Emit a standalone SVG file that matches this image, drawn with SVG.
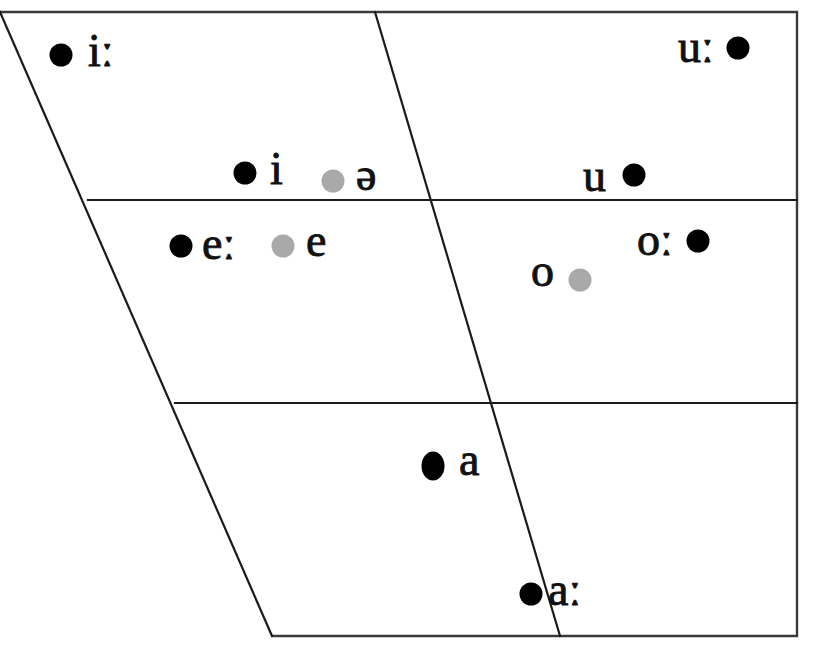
<svg xmlns="http://www.w3.org/2000/svg" width="814" height="660" viewBox="0 0 814 660">
<style>
.ln{stroke:#1a1a1a;stroke-width:2.2;fill:none;stroke-linecap:square}
.bd{stroke:#3a3a3a;stroke-width:2.4;fill:none}
.dk{fill:#000}
.gr{fill:#a9a9a9}
.t{font-family:"Liberation Serif","DejaVu Serif",serif;font-size:46px;fill:#111;stroke:#111;stroke-width:0.9}
</style>
<rect width="814" height="660" fill="#fff"/>
<g id="chart-lines">
<polyline class="bd" points="0,12 797,12 797,636 272,636"/>
<line class="ln" x1="0" y1="12" x2="272" y2="636"/>
<line class="ln" x1="375" y1="12" x2="560" y2="636"/>
<line class="ln" x1="88" y1="200" x2="797" y2="200"/>
<line class="ln" x1="175" y1="403" x2="797" y2="403"/>
</g>
<g id="v-ii"><circle class="dk" cx="61" cy="55" r="11.5"/><text class="t" x="88" y="66">iː</text></g>
<g id="v-uu"><circle class="dk" cx="738" cy="48" r="11.5"/><text class="t" x="678" y="62">uː</text></g>
<g id="v-i"><circle class="dk" cx="245" cy="173" r="11.5"/><text class="t" x="270" y="184">i</text></g>
<g id="v-schwa"><circle class="gr" cx="333" cy="181" r="11.5"/><text class="t" x="356" y="190">ə</text></g>
<g id="v-u"><circle class="dk" cx="634" cy="175" r="11.5"/><text class="t" x="583" y="191">u</text></g>
<g id="v-ee"><circle class="dk" cx="181" cy="246" r="11.5"/><text class="t" x="202" y="259">eː</text></g>
<g id="v-e"><circle class="gr" cx="283" cy="246" r="11.5"/><text class="t" x="306" y="256">e</text></g>
<g id="v-oo"><circle class="dk" cx="698" cy="241" r="11.5"/><text class="t" x="637" y="255">oː</text></g>
<g id="v-o"><circle class="gr" cx="580" cy="280" r="11.5"/><text class="t" x="531" y="286">o</text></g>
<g id="v-a"><ellipse class="dk" cx="433" cy="466" rx="11.5" ry="14.5"/><text class="t" x="459" y="475">a</text></g>
<g id="v-aa"><circle class="dk" cx="531" cy="594" r="11.5"/><text class="t" x="548" y="605">aː</text></g>
</svg>
